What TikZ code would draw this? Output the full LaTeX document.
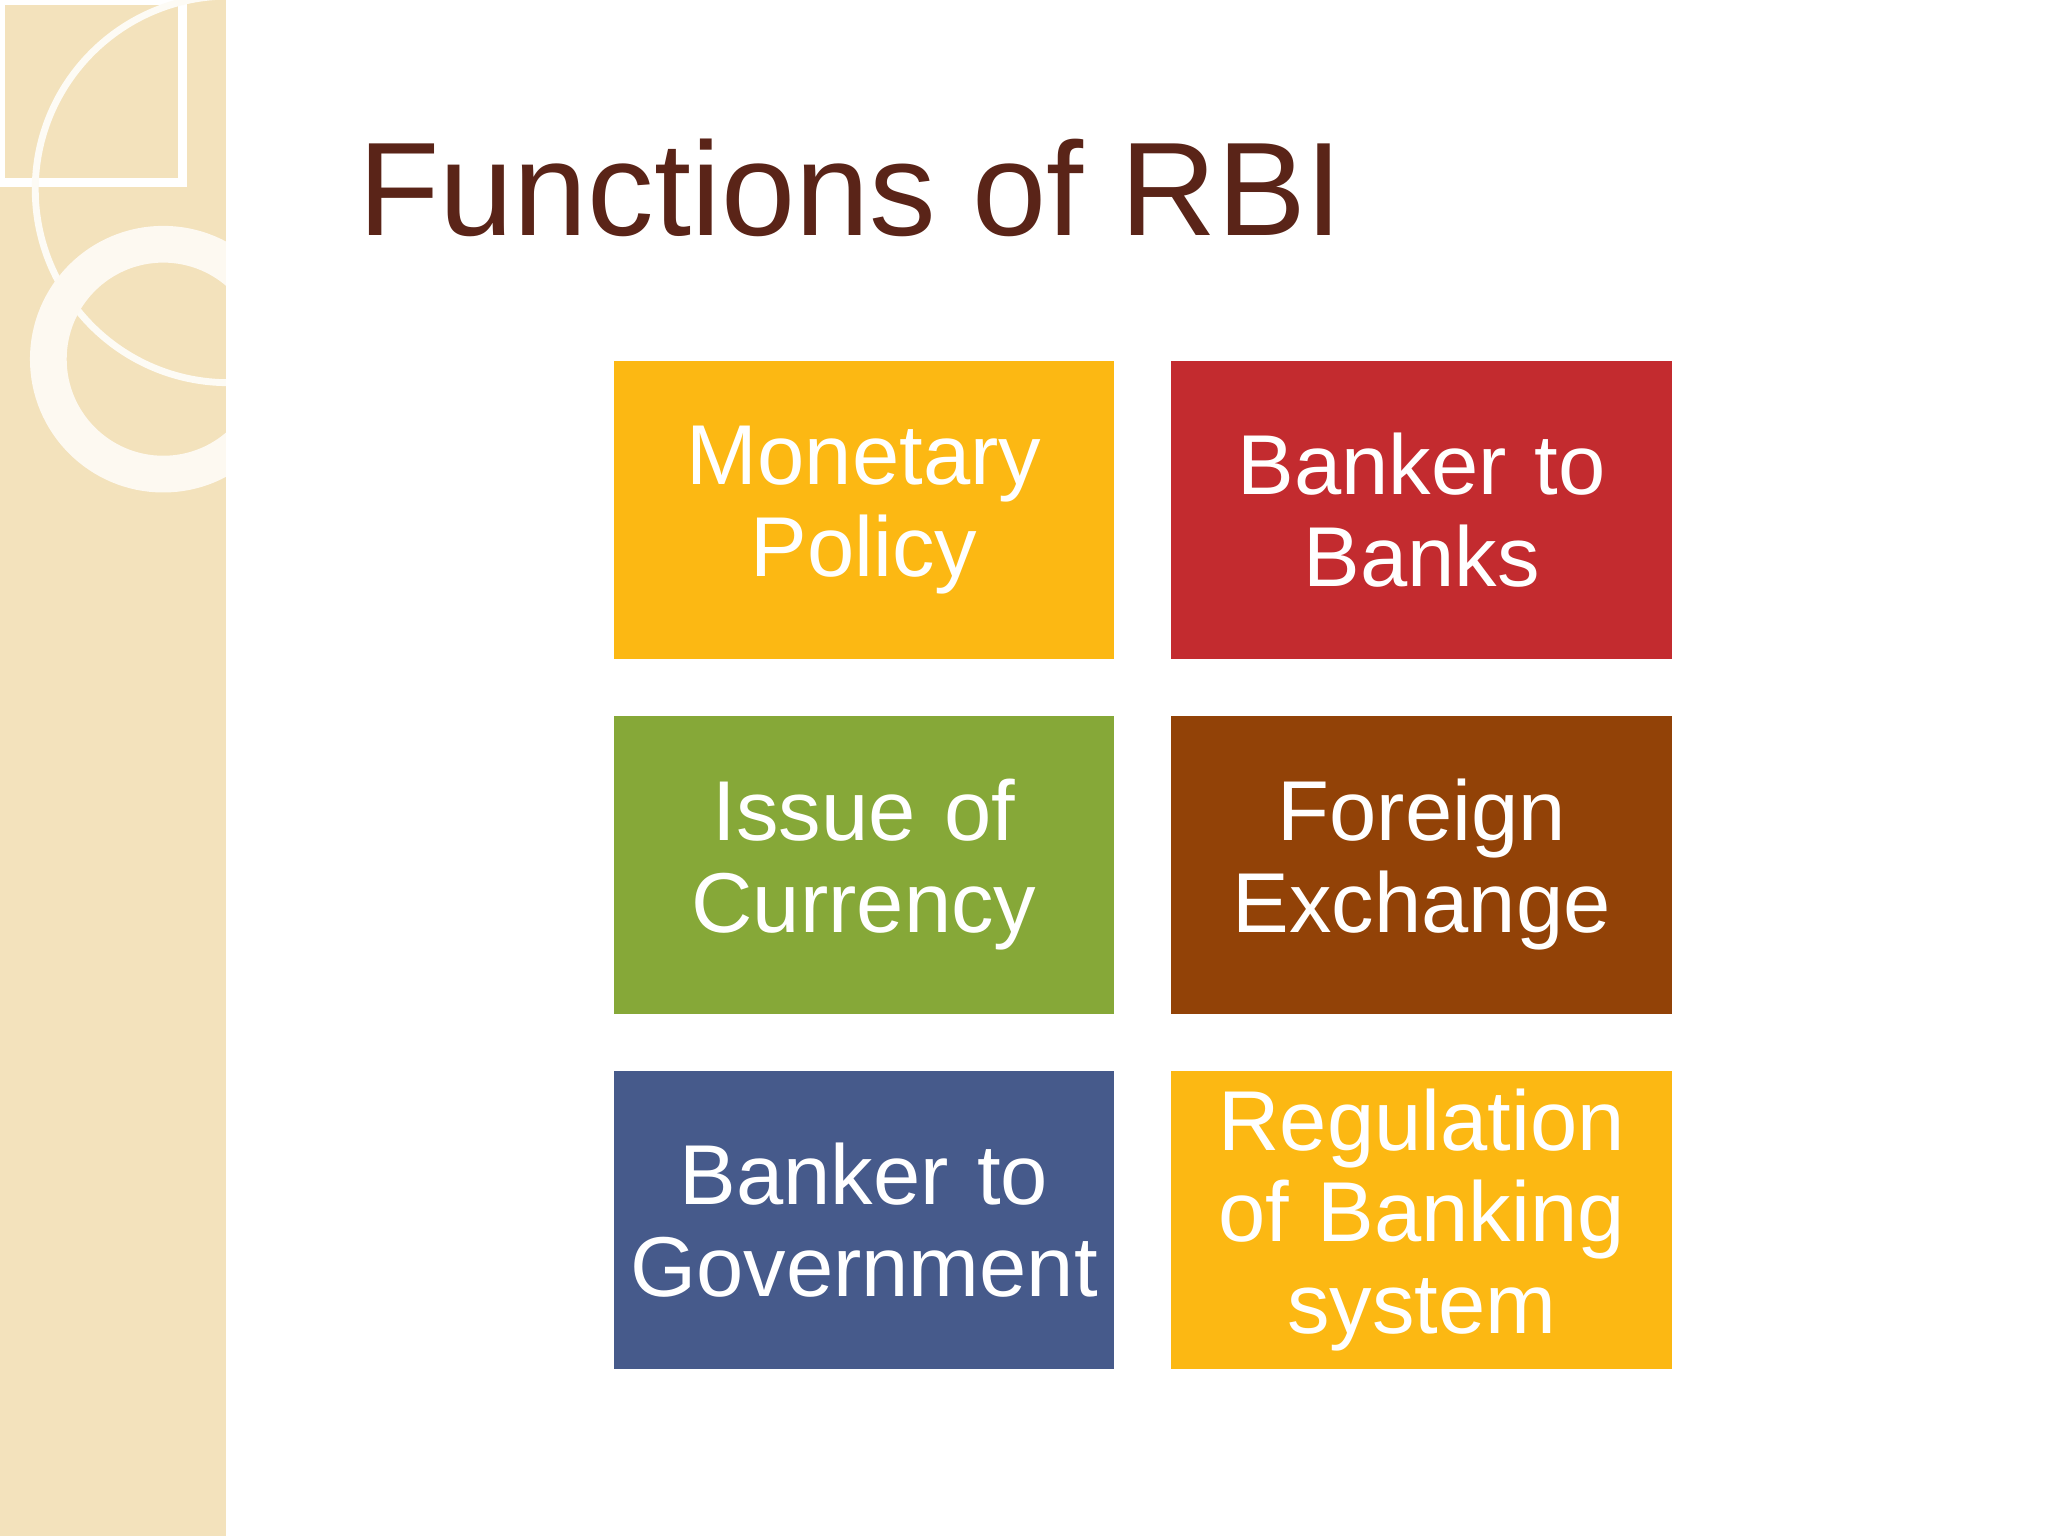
\documentclass[tikz,border=0pt]{standalone}
\usepackage{fontspec}
\setmainfont{Liberation Sans}
\usetikzlibrary{positioning}
\definecolor{rbiyellow}{HTML}{FCB813}
\definecolor{rbired}{HTML}{C32B2F}
\definecolor{rbigreen}{HTML}{86A838}
\definecolor{rbibrown}{HTML}{924207}
\definecolor{rbiblue}{HTML}{465A8B}
\definecolor{rbititle}{HTML}{5A2418}
\definecolor{rbistrip}{HTML}{F3E2BC}
\tikzset{
  fbox/.style={minimum width=3.83cm, minimum height=2.28cm, text width=3.6cm,
    align=center, text=white, font=\fontsize{18.5}{20}\selectfont, inner sep=0pt},
}
\begin{document}
\begin{tikzpicture}[x=0.01cm,y=-0.01cm]
\useasboundingbox (0,0) rectangle (1568,1176);
\fill[white] (0,0) rectangle (1568,1176);
\fill[rbistrip] (0,0) rectangle (173,1176);
\draw[white, line width=2pt] (0,0) rectangle (140,140);
\begin{scope}
\clip (0,0) rectangle (173,1176);
\draw[white!85!rbistrip, line width=1.5pt] (175,145) circle (148);
\draw[white!80!rbistrip, line width=8pt] (125,275) circle (88);
\end{scope}
\node[anchor=base west, text=rbititle, font=\fontsize{29}{32}\selectfont] (title) at (262,180) {Functions of RBI};
\node[fbox, fill=rbiyellow] (mon) at (661.5,390.5) {Monetary\\Policy};
\node[fbox, fill=rbired] (bnk) at (1088.5,390.5) {Banker to\\Banks};
\node[fbox, fill=rbigreen] (cur) at (661.5,662) {Issue of\\Currency};
\node[fbox, fill=rbibrown] (forex) at (1088.5,662) {Foreign\\Exchange};
\node[fbox, fill=rbiblue] (gov) at (661.5,934) {Banker to\\Government};
\node[fbox, fill=rbiyellow] (reg) at (1088.5,934) {Regulation\\of Banking\\system};
\end{tikzpicture}
\end{document}
